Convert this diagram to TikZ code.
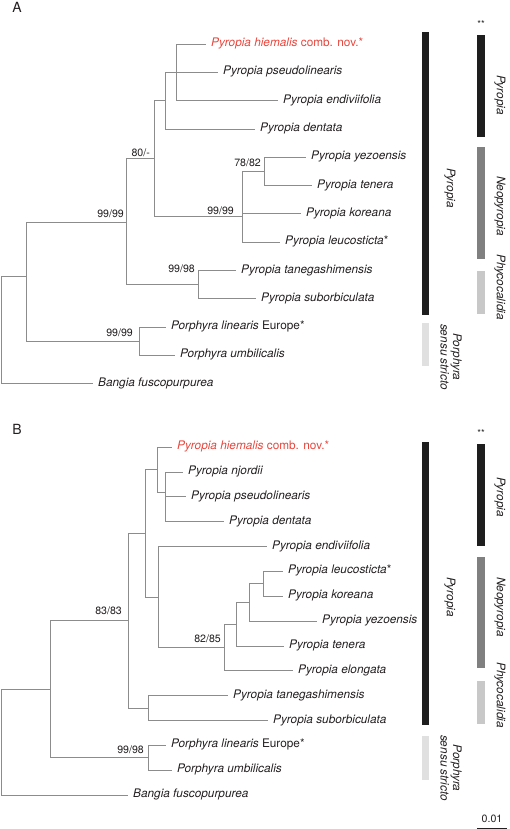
\documentclass[tikz,border=0pt]{standalone}
\usepackage{fontspec}
\setmainfont{TeX Gyre Heros}
\usetikzlibrary{positioning}

\definecolor{branchgray}{HTML}{8C8C8C}
\definecolor{textdark}{HTML}{231F20}
\definecolor{novred}{HTML}{E8453C}
\definecolor{cladeblack}{HTML}{1E1E1E}
\definecolor{cladedark}{HTML}{808080}
\definecolor{cladelight}{HTML}{C8C8C8}
\definecolor{cladepale}{HTML}{E0E0E0}

\begin{document}
\begin{tikzpicture}[
        x = 1pt, y = -1pt,
        every node/.style = {text = textdark},
        branch/.style = {draw = branchgray, line width = 0.7pt},
        taxon/.style = {anchor = mid west, inner xsep = 5pt, inner ysep = 1pt,
            font = \fontsize{11.8}{13}\selectfont\itshape},
        support/.style = {anchor = east, inner sep = 0pt, font = \fontsize{10.6}{12}\selectfont},
        cladename/.style = {rotate = -90, align = center, inner sep = 0pt,
            font = \fontsize{11.8}{12.5}\selectfont\itshape},
        panel/.style = {font = \fontsize{14}{16}\selectfont},
        stars/.style = {font = \fontsize{9.5}{10}\selectfont, inner sep = 0pt}
    ]

    \useasboundingbox (0,0) rectangle (510,829);

    % panel A
    \node[panel] (labA) at (17, 7) {A};

    \node[taxon, text = novred] (hiemA) at (206, 44) {Pyropia hiemalis \textup{comb. nov.*}};
    \node[taxon] (pseuA) at (218, 72.3) {Pyropia pseudolinearis};
    \node[taxon] (endiA) at (278, 100.6) {Pyropia endiviifolia};
    \node[taxon] (dentA) at (255, 128.9) {Pyropia dentata};
    \node[taxon] (yezoA) at (306, 157.2) {Pyropia yezoensis};
    \node[taxon] (teneA) at (312, 185.5) {Pyropia tenera};
    \node[taxon] (koreA) at (301, 213.8) {Pyropia koreana};
    \node[taxon] (leucA) at (280, 242.1) {Pyropia leucosticta\textup{*}};
    \node[taxon] (taneA) at (236, 270.4) {Pyropia tanegashimensis};
    \node[taxon] (suboA) at (256, 298.7) {Pyropia suborbiculata};
    \node[taxon] (lineA) at (166, 327) {Porphyra linearis \textup{Europe*}};
    \node[taxon] (umbiA) at (175, 355.3) {Porphyra umbilicalis};
    \node[taxon] (bangA) at (93, 383.6) {Bangia fuscopurpurea};

    \coordinate (hiemEndA) at (176, 72.3);
    \coordinate (clade1A) at (165, 100.6);
    \coordinate (yezTenA) at (264, 171.4);
    \coordinate (kor99A) at (242, 216);
    \coordinate (n80A) at (154, 158.5);
    \coordinate (tanSubA) at (198, 284.6);
    \coordinate (n99A) at (126, 222);
    \coordinate (porA) at (139, 341.2);
    \coordinate (ingroupA) at (26, 276);
    \coordinate (rootA) at (1, 330);

    \draw[branch] (hiemEndA) |- (hiemA.mid west) (hiemEndA) |- (endiA.mid west);
    \draw[branch] (clade1A) |- (hiemEndA) (clade1A) |- (pseuA.mid west) (clade1A) |- (dentA.mid west);
    \draw[branch] (yezTenA) |- (yezoA.mid west) (yezTenA) |- (teneA.mid west);
    \draw[branch] (kor99A) |- (yezTenA) (kor99A) |- (koreA.mid west) (kor99A) |- (leucA.mid west);
    \draw[branch] (n80A) |- (clade1A) (n80A) |- (kor99A);
    \draw[branch] (tanSubA) |- (taneA.mid west) (tanSubA) |- (suboA.mid west);
    \draw[branch] (n99A) |- (n80A) (n99A) |- (tanSubA);
    \draw[branch] (porA) |- (lineA.mid west) (porA) |- (umbiA.mid west);
    \draw[branch] (ingroupA) |- (n99A) (ingroupA) |- (porA);
    \draw[branch] (rootA) |- (ingroupA) (rootA) |- (bangA.mid west);

    \node[support] (bsA80) at (150, 153) {80/-};
    \node[support] (bsA78) at (261, 163) {78/82};
    \node[support] (bsA99a) at (124, 214) {99/99};
    \node[support] (bsA99b) at (234, 211) {99/99};
    \node[support] (bsA98) at (195, 269) {99/98};
    \node[support] (bsA99c) at (133, 333) {99/99};

    \fill[cladeblack] (422, 32) rectangle (429, 315);
    \fill[cladepale] (422, 323) rectangle (429, 366);
    \fill[cladeblack] (477, 35) rectangle (485, 137);
    \fill[cladedark] (477, 147) rectangle (485, 259);
    \fill[cladelight] (477, 271) rectangle (485, 314);

    \node[cladename] (bigPyrA) at (450, 188) {Pyropia};
    \node[cladename] (porssA) at (451, 357) {Porphyra\\sensu stricto};
    \node[cladename] (pyrA) at (500, 95) {Pyropia};
    \node[cladename] (neoA) at (500, 206) {Neopyropia};
    \node[cladename] (phyA) at (500, 287) {Phycocalidia};
    \node[stars] (starA) at (481, 24) {**};


    % panel B
    \node[panel] (labB) at (17, 429) {B};

    \node[taxon, text = novred] (hiemB) at (172, 447) {Pyropia hiemalis \textup{comb. nov.*}};
    \node[taxon] (njorB) at (183, 471.9) {Pyropia njordii};
    \node[taxon] (pseuB) at (186, 496.7) {Pyropia pseudolinearis};
    \node[taxon] (dentB) at (224, 521.6) {Pyropia dentata};
    \node[taxon] (endiB) at (267, 546.4) {Pyropia endiviifolia};
    \node[taxon] (leucB) at (283, 571.3) {Pyropia leucosticta\textup{*}};
    \node[taxon] (koreB) at (283, 596.2) {Pyropia koreana};
    \node[taxon] (yezoB) at (317, 621) {Pyropia yezoensis};
    \node[taxon] (teneB) at (284, 645.9) {Pyropia tenera};
    \node[taxon] (elonB) at (293, 670.7) {Pyropia elongata};
    \node[taxon] (taneB) at (228, 695.6) {Pyropia tanegashimensis};
    \node[taxon] (suboB) at (268, 720.5) {Pyropia suborbiculata};
    \node[taxon] (lineB) at (166, 745.3) {Porphyra linearis \textup{Europe*}};
    \node[taxon] (umbiB) at (172, 770.2) {Porphyra umbilicalis};
    \node[taxon] (bangB) at (128, 795) {Bangia fuscopurpurea};

    \coordinate (njPsDeB) at (165, 492);
    \coordinate (hiemGrpB) at (157, 469);
    \coordinate (leuKorB) at (263, 583.7);
    \coordinate (lkYezB) at (249, 602);
    \coordinate (lkyTenB) at (236, 624);
    \coordinate (n82B) at (224, 647);
    \coordinate (endGrpB) at (158, 597);
    \coordinate (pyroB) at (145, 533);
    \coordinate (tanSubB) at (148, 708);
    \coordinate (n83B) at (128, 620);
    \coordinate (porB) at (148, 757.7);
    \coordinate (ingroupB) at (50, 689);
    \coordinate (rootB) at (1, 740);

    \draw[branch] (njPsDeB) |- (njorB.mid west) (njPsDeB) |- (pseuB.mid west) (njPsDeB) |- (dentB.mid west);
    \draw[branch] (hiemGrpB) |- (hiemB.mid west) (hiemGrpB) |- (njPsDeB);
    \draw[branch] (leuKorB) |- (leucB.mid west) (leuKorB) |- (koreB.mid west);
    \draw[branch] (lkYezB) |- (leuKorB) (lkYezB) |- (yezoB.mid west);
    \draw[branch] (lkyTenB) |- (lkYezB) (lkyTenB) |- (teneB.mid west);
    \draw[branch] (n82B) |- (lkyTenB) (n82B) |- (elonB.mid west);
    \draw[branch] (endGrpB) |- (endiB.mid west) (endGrpB) |- (n82B);
    \draw[branch] (pyroB) |- (hiemGrpB) (pyroB) |- (endGrpB);
    \draw[branch] (tanSubB) |- (taneB.mid west) (tanSubB) |- (suboB.mid west);
    \draw[branch] (n83B) |- (pyroB) (n83B) |- (tanSubB);
    \draw[branch] (porB) |- (lineB.mid west) (porB) |- (umbiB.mid west);
    \draw[branch] (ingroupB) |- (n83B) (ingroupB) |- (porB);
    \draw[branch] (rootB) |- (ingroupB) (rootB) |- (bangB.mid west);

    \node[support] (bsB83) at (122, 611) {83/83};
    \node[support] (bsB82) at (221, 639) {82/85};
    \node[support] (bsB99) at (144, 750) {99/98};

    \fill[cladeblack] (422, 442) rectangle (429, 725);
    \fill[cladepale] (422, 736) rectangle (429, 780);
    \fill[cladeblack] (477, 444) rectangle (485, 546);
    \fill[cladedark] (477, 557) rectangle (485, 668);
    \fill[cladelight] (477, 681) rectangle (485, 724);

    \node[cladename] (bigPyrB) at (450, 597) {Pyropia};
    \node[cladename] (porssB) at (451, 768) {Porphyra\\sensu stricto};
    \node[cladename] (pyrB) at (500, 497) {Pyropia};
    \node[cladename] (neoB) at (500, 607) {Neopyropia};
    \node[cladename] (phyB) at (500, 695) {Phycocalidia};
    \node[stars] (starB) at (481, 433) {**};

    % scale bar
    \coordinate (scaleL) at (477, 828);
    \coordinate (scaleR) at (507, 828);
    \draw[draw = textdark, line width = 0.6pt] (scaleL) -- (scaleR)
        node[midway, above = 2pt, font = \fontsize{10.6}{12}\selectfont] (scaleTxt) {0.01};

\end{tikzpicture}
\end{document}
